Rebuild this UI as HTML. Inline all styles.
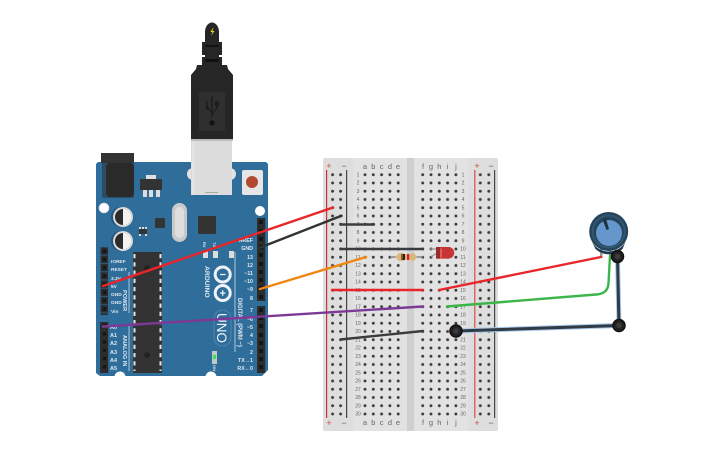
<!DOCTYPE html>
<html><head><meta charset="utf-8"><style>html,body{margin:0;padding:0;background:#fff}svg{display:block}text{font-family:"Liberation Sans",sans-serif}</style></head><body>
<svg width="725" height="453" viewBox="0 0 725 453" xmlns="http://www.w3.org/2000/svg">
<defs>
<pattern id="p" x="92" y="247" width="8.2" height="8.25" patternUnits="userSpaceOnUse"><rect x="0.5" y="0.3" width="7.4" height="7.6" fill="#2c2c2c"/><rect x="2.6" y="2.6" width="3.4" height="3.4" fill="#151515"/></pattern>
<pattern id="hl" patternUnits="userSpaceOnUse" x="328.6" y="170.6" width="8" height="8.25"><circle cx="4" cy="4.12" r="1.45" fill="#3a3a3a"/></pattern>
<pattern id="hr" patternUnits="userSpaceOnUse" x="476.3" y="170.6" width="8.5" height="8.25"><circle cx="4" cy="4.12" r="1.45" fill="#3a3a3a"/></pattern>
<pattern id="ha" patternUnits="userSpaceOnUse" x="360.85" y="170.6" width="8.3" height="8.25"><circle cx="4.15" cy="4.12" r="1.45" fill="#3a3a3a"/></pattern>
<pattern id="hf" patternUnits="userSpaceOnUse" x="418.55" y="170.6" width="8.3" height="8.25"><circle cx="4.15" cy="4.12" r="1.45" fill="#3a3a3a"/></pattern>
</defs>

<!-- USB plug -->
<path d="M205 32a7 9.5 0 0 1 14 0V42h3v13h-3v2h3v8h5l1 4 5 6V139H191V75l5-6 1-4h5v-8h3v-2h-3V42h3z" fill="#262626"/>
<rect x="205" y="45" width="14" height="2" rx="1" fill="#111"/>
<rect x="205" y="59" width="14" height="3" rx="1.5" fill="#111"/>
<path d="M213.5 27l-3 5h2l-1.500 4 3.500-5h-2z" fill="#f2d21a"/>
<rect x="199" y="92" width="26" height="39" fill="#2f2f2f"/>
<path d="M212 96v21M212 112l-5-5v-6M212 114l5-6v-7" stroke="#1c1c1c" stroke-width="1.300" fill="none"/>
<circle cx="212" cy="123" r="2.700" fill="#141414"/><rect x="215" y="102" width="4" height="4" fill="#1c1c1c"/><circle cx="207" cy="108" r="1.500" fill="#1c1c1c"/>
<rect x="191" y="139" width="42" height="2" fill="#bbb"/>

<!-- Arduino board -->
<path d="M98 162H266l2 2V370l-6 6H100l-4-3V164z" fill="#2f6d9b"/>
<rect x="187" y="168" width="49" height="12" rx="6" fill="#e3e3e3"/>
<rect x="191" y="141" width="41" height="54" fill="#dcdcdc"/><rect x="192" y="141" width="3" height="54" fill="#e4e4e4"/>
<rect x="205" y="192" width="13" height="1" fill="#aaa"/>
<rect x="102" y="153" width="32" height="45" rx="2" fill="#262f36" opacity=".5"/>
<rect x="101" y="153" width="33" height="10" fill="#333"/>
<rect x="106" y="163" width="28" height="34" rx="4" fill="#2a2a2a"/>
<!-- regulator -->
<rect x="146" y="175" width="10" height="5" fill="#e0e0e0"/><rect x="140" y="179" width="22" height="11" fill="#333"/>
<rect x="143" y="190" width="4" height="7" fill="#ddd"/><rect x="149" y="190" width="4" height="7" fill="#ddd"/><rect x="156" y="190" width="4" height="7" fill="#ddd"/>
<!-- reset -->
<rect x="242" y="170" width="21" height="25" rx="2" fill="#e6e6e6"/><circle cx="252" cy="182" r="6" fill="#b0492e"/>
<!-- holes -->
<circle cx="104" cy="208" r="5" fill="#fff" stroke="#ddd" stroke-width=".6"/><circle cx="260" cy="211" r="5" fill="#fff"/><circle cx="120" cy="377" r="5.500" fill="#fff"/><circle cx="211" cy="377" r="5.500" fill="#fff"/>
<!-- capacitors -->
<circle cx="121" cy="217" r="10" fill="#27527a"/><circle cx="123" cy="217" r="10" fill="#d9d9d9"/><path d="M123 209a8 8 0 0 0 0 16z" fill="#2b2b2b"/><path d="M123 209a8 8 0 0 1 0 16z" fill="#f2f2f2"/>
<circle cx="121" cy="241" r="10" fill="#27527a"/><circle cx="123" cy="241" r="10" fill="#d9d9d9"/><path d="M123 233a8 8 0 0 0 0 16z" fill="#2b2b2b"/><path d="M123 233a8 8 0 0 1 0 16z" fill="#f2f2f2"/>
<!-- crystal, chips -->
<rect x="172" y="203" width="15" height="39" rx="7.500" fill="#c9c9c9"/><rect x="175" y="207" width="9" height="31" rx="4.500" fill="#dedede"/>
<rect x="198" y="216" width="18" height="18" rx="1" fill="#333"/><rect x="155" y="218" width="10" height="10" rx="1" fill="#333"/>
<rect x="139" y="229" width="8" height="5" fill="#333"/><rect x="139" y="227" width="2" height="2" fill="#ddd"/><rect x="142" y="227" width="2" height="2" fill="#ddd"/><rect x="145" y="227" width="2" height="2" fill="#ddd"/><rect x="139" y="234" width="2" height="2" fill="#ddd"/><rect x="145" y="234" width="2" height="2" fill="#ddd"/>
<!-- LEDs -->
<rect x="203" y="251" width="5" height="7" fill="#dcdcdc"/><rect x="213" y="251" width="5" height="7" fill="#dcdcdc"/><rect x="229" y="251" width="5" height="7" fill="#dcdcdc"/>
<rect x="212" y="351" width="5" height="13" fill="#bfc9c9"/><rect x="213" y="355" width="3" height="4" fill="#3fe04a"/>
<!-- IC -->
<rect x="133" y="252" width="29" height="121" rx="1" fill="#333"/>
<path d="M134.500 254V371" stroke="#e4e4e4" stroke-width="2" stroke-dasharray="4.200 4.050"/><path d="M160.500 254V371" stroke="#e4e4e4" stroke-width="2" stroke-dasharray="4.200 4.050"/>
<circle cx="147" cy="268" r="3" fill="#222"/><circle cx="147" cy="355" r="3" fill="#222"/>
<!-- headers -->
<rect x="100" y="247" width="8.200" height="68" fill="url(#p)"/><rect x="100" y="322" width="8.200" height="51" fill="#2c2c2c"/><rect x="100" y="322" width="8.200" height="51" fill="url(#p)"/>
<rect x="257" y="218" width="8.200" height="83" fill="#2c2c2c"/><rect x="257" y="306" width="8.200" height="67" fill="#2c2c2c"/>
<g fill="#151515"><rect x="259" y="220" width="4" height="4"/><rect x="259" y="229" width="4" height="4"/><rect x="259" y="237" width="4" height="4"/><rect x="259" y="245" width="4" height="4"/><rect x="259" y="253" width="4" height="4"/><rect x="259" y="262" width="4" height="4"/><rect x="259" y="270" width="4" height="4"/><rect x="259" y="278" width="4" height="4"/><rect x="259" y="286" width="4" height="4"/><rect x="259" y="295" width="4" height="4"/><rect x="259" y="308" width="4" height="4"/><rect x="259" y="316" width="4" height="4"/><rect x="259" y="324" width="4" height="4"/><rect x="259" y="333" width="4" height="4"/><rect x="259" y="341" width="4" height="4"/><rect x="259" y="349" width="4" height="4"/><rect x="259" y="357" width="4" height="4"/><rect x="259" y="365" width="4" height="4"/></g>
<!-- board labels -->
<g fill="#dfe8ef" font-size="4.800" font-weight="bold">
<text x="111" y="263">IOREF</text><text x="111" y="271">RESET</text><text x="111" y="280">3.3V</text><text x="111" y="288">5V</text><text x="111" y="296">GND</text><text x="111" y="304">GND</text><text x="111" y="313">Vin</text>
<g font-size="5.500"><text x="110" y="329">A0</text><text x="110" y="337">A1</text><text x="110" y="345">A2</text><text x="110" y="354">A3</text><text x="110" y="362">A4</text><text x="110" y="370">A5</text></g>
<g text-anchor="end" font-size="5.300"><text x="253" y="242">AREF</text><text x="253" y="250">GND</text><text x="253" y="259">13</text><text x="253" y="267">12</text><text x="253" y="275">~11</text><text x="253" y="283">~10</text><text x="253" y="291">~9</text><text x="253" y="300">8</text><text x="253" y="312">7</text><text x="253" y="321">~6</text><text x="253" y="329">~5</text><text x="253" y="337">4</text><text x="253" y="345">~3</text><text x="253" y="354">2</text><text x="253" y="362">TX→1</text><text x="253" y="370">RX←0</text></g>
<text transform="translate(123 290) rotate(90)" font-size="5.600">POWER</text>
<text transform="translate(123 335) rotate(90)" font-size="5.600">ANALOG IN</text>
<text transform="translate(238 298) rotate(90)" font-size="6">DIGITAL (PWM ~)</text>
<text transform="translate(205 266) rotate(90)" font-size="6.800">ARDUINO</text>
<text transform="translate(203 242) rotate(90)" font-size="4">RX</text><text transform="translate(213 242) rotate(90)" font-size="4">TX</text><text transform="translate(213 365) rotate(90)" font-size="4">ON</text>
</g>
<path d="M129 272V313M129 325V371M235 252V352" stroke="#e8eef3" stroke-width=".7" fill="none"/>
<g fill="none" stroke="#f0f4f8"><circle cx="222.700" cy="274.500" r="7.500" stroke-width="3"/><circle cx="222.700" cy="293" r="7.500" stroke-width="3"/></g>
<path d="M220 274.500h5.500M220 293h5.500M222.700 290.300v5.400" stroke="#f0f4f8" stroke-width="1.300"/>
<rect x="214" y="310" width="17" height="36" rx="8.500" fill="none" stroke="#5a8db4" stroke-width=".8"/>
<text transform="translate(217 313) rotate(90)" fill="#eef3f7" font-size="13.500">UNO</text>

<!-- breadboard -->
<rect x="323" y="158" width="175" height="273" rx="2" fill="#dedede"/>
<rect x="353" y="158" width="54" height="273" fill="#e2e2e2"/><rect x="414" y="158" width="54" height="273" fill="#e2e2e2"/>
<rect x="407" y="158" width="7" height="273" fill="#cfcfcf"/>
<rect x="326" y="170" width="1.200" height="248" fill="#c8342e"/><rect x="346" y="170" width="1.200" height="248" fill="#444"/>
<rect x="474" y="170" width="1.500" height="248" fill="#d96a66"/><rect x="494" y="170" width="1.200" height="248" fill="#444"/>
<rect x="328.600" y="170.600" width="16" height="247.500" fill="url(#hl)"/>
<rect x="476.300" y="170.600" width="17" height="247.500" fill="url(#hr)"/>
<rect x="360.850" y="170.600" width="41.500" height="247.500" fill="url(#ha)"/>
<rect x="418.550" y="170.600" width="41.500" height="247.500" fill="url(#hf)"/>
<g fill="#c94a44" font-size="9" text-anchor="middle"><text x="329" y="169">+</text><text x="477" y="169">+</text><text x="329" y="426">+</text><text x="477" y="426">+</text></g>
<g fill="#666" font-size="9" text-anchor="middle"><text x="344" y="169">−</text><text x="491" y="169">−</text><text x="344" y="426">−</text><text x="491" y="426">−</text></g>
<g fill="#666" font-size="7.500" text-anchor="middle">
<text x="365" y="169">a</text><text x="373.300" y="169">b</text><text x="381.600" y="169">c</text><text x="390" y="169">d</text><text x="398" y="169">e</text><text x="423" y="169">f</text><text x="431" y="169">g</text><text x="439.300" y="169">h</text><text x="447.600" y="169">i</text><text x="456" y="169">j</text>
<text x="365" y="425">a</text><text x="373.300" y="425">b</text><text x="381.600" y="425">c</text><text x="390" y="425">d</text><text x="398" y="425">e</text><text x="423" y="425">f</text><text x="431" y="425">g</text><text x="439.300" y="425">h</text><text x="447.600" y="425">i</text><text x="456" y="425">j</text>
</g>
<g fill="#666" font-size="5" text-anchor="middle">
<text x="358" y="176.500">1</text><text x="463" y="176.500">1</text><text x="358" y="184.700">2</text><text x="463" y="184.700">2</text><text x="358" y="193">3</text><text x="463" y="193">3</text><text x="358" y="201.200">4</text><text x="463" y="201.200">4</text><text x="358" y="209.500">5</text><text x="463" y="209.500">5</text><text x="358" y="217.700">6</text><text x="463" y="217.700">6</text><text x="358" y="226">7</text><text x="463" y="226">7</text><text x="358" y="234.200">8</text><text x="463" y="234.200">8</text><text x="358" y="242.500">9</text><text x="463" y="242.500">9</text><text x="358" y="250.700">10</text><text x="463" y="250.700">10</text><text x="358" y="259">11</text><text x="463" y="259">11</text><text x="358" y="267.200">12</text><text x="463" y="267.200">12</text><text x="358" y="275.500">13</text><text x="463" y="275.500">13</text><text x="358" y="283.700">14</text><text x="463" y="283.700">14</text><text x="358" y="292">15</text><text x="463" y="292">15</text><text x="358" y="300.200">16</text><text x="463" y="300.200">16</text><text x="358" y="308.500">17</text><text x="463" y="308.500">17</text><text x="358" y="316.700">18</text><text x="463" y="316.700">18</text><text x="358" y="325">19</text><text x="463" y="325">19</text><text x="358" y="333.200">20</text><text x="463" y="333.200">20</text><text x="358" y="341.500">21</text><text x="463" y="341.500">21</text><text x="358" y="349.700">22</text><text x="463" y="349.700">22</text><text x="358" y="358">23</text><text x="463" y="358">23</text><text x="358" y="366.200">24</text><text x="463" y="366.200">24</text><text x="358" y="374.500">25</text><text x="463" y="374.500">25</text><text x="358" y="382.700">26</text><text x="463" y="382.700">26</text><text x="358" y="391">27</text><text x="463" y="391">27</text><text x="358" y="399.200">28</text><text x="463" y="399.200">28</text><text x="358" y="407.500">29</text><text x="463" y="407.500">29</text><text x="358" y="415.700">30</text><text x="463" y="415.700">30</text>
</g>

<!-- resistor -->
<path d="M390 257H423" stroke="#888" stroke-width="1.500"/>
<path d="M395 257l4-4h4l1.500 1.200h6L412 253h2l3 4-3 4h-2l-1.500-1.200h-6L403 261h-4z" fill="#d9b77e"/>
<rect x="401" y="254" width="2" height="6" fill="#8a5a2a"/><rect x="403" y="254" width="2" height="6" fill="#222"/><rect x="407" y="254" width="2.200" height="6" fill="#e01b1b"/>
<!-- LED -->
<path d="M430 249h8M431 257l6-4" stroke="#999" stroke-width="1.200"/>
<path d="M436 247h12.500a5.800 5.800 0 0 1 0 11.600H436z" fill="#c73434"/>
<rect x="436" y="247" width="4" height="11.600" rx="1.500" fill="#9b2a2a"/><rect x="440" y="248.500" width="2" height="9" fill="#d96060"/>

<!-- potentiometer -->
<rect x="600" y="248" width="2.500" height="10" fill="#9a9a9a"/><rect x="609" y="248" width="2.500" height="9" fill="#9a9a9a"/>
<circle cx="608.700" cy="231.500" r="19.500" fill="#24445c"/>
<circle cx="608.700" cy="231.500" r="16" fill="none" stroke="#34566f" stroke-width="2"/>
<path d="M592 242a19.500 19.500 0 0 0 33.500 0l-3 7a19.500 19.500 0 0 1-27 0z" fill="#1d3a50"/>
<circle cx="609" cy="233" r="13" fill="#6597cc"/>
<path d="M602.500 219.500l3.500-1.200 3 11-2.500.7z" fill="#1f3342"/>

<!-- wires -->
<g fill="none" stroke-linecap="round">
<path d="M617.500 257L619 325.500M456 331L619 325.500" stroke="#a9c9e8" stroke-width="5"/>
<path d="M617.500 257L619 325.500M456 331L619 325.500" stroke="#2f3b45" stroke-width="3"/>
<path d="M103 286L333 207.500" stroke="#e8262a" stroke-width="2.400"/>
<path d="M259 248L341.500 215.800" stroke="#2f3436" stroke-width="2.400"/>
<path d="M340.500 224.500H374M340.500 249H423M340.500 339.500L423 331" stroke="#3a3d3f" stroke-width="2.400"/>
<path d="M260 289L366 257" stroke="#f0860f" stroke-width="2.400"/>
<path d="M332 290H423M439 290L601 257" stroke="#e8262a" stroke-width="2.400"/>
<path d="M447 306.500L596 294.500Q608 294 608.500 283L610 256" stroke="#3cb54a" stroke-width="2.400"/>
<path d="M103 326.500L423 306.500" stroke="#7c3a96" stroke-width="2.400"/>
</g>
<g fill="#222" stroke="#111"><circle cx="456" cy="331" r="6" stroke-width="1.500"/><circle cx="617.500" cy="256.500" r="6" stroke-width="1.500"/><circle cx="619" cy="325.500" r="6" stroke-width="1.500"/></g>
<g fill="#3b3b3b"><circle cx="456" cy="331" r="2.800"/><circle cx="617.500" cy="256.500" r="2.800"/><circle cx="619" cy="325.500" r="2.800"/></g>
</svg>
</body></html>
